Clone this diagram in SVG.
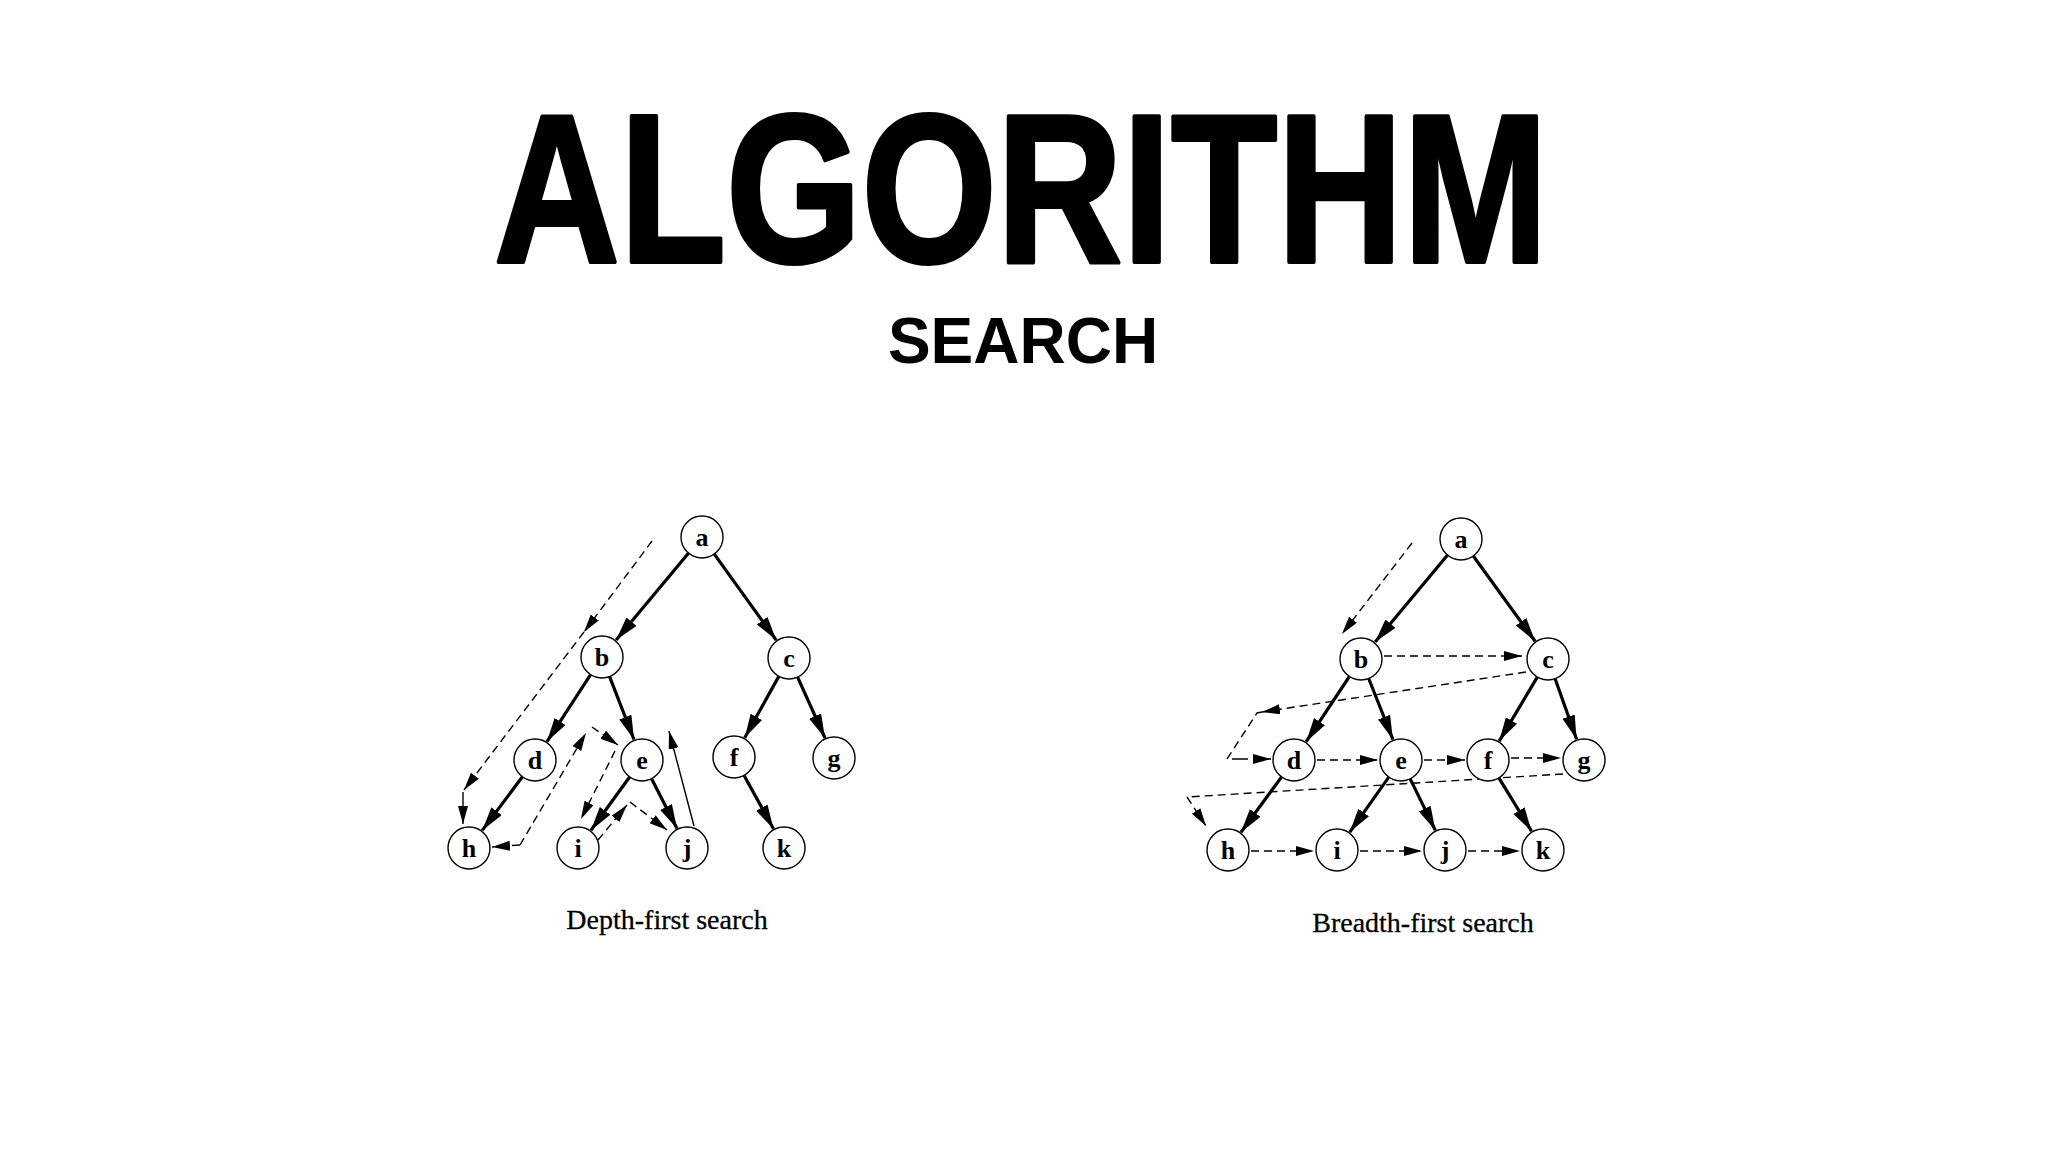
<svg xmlns="http://www.w3.org/2000/svg" width="2048" height="1152" viewBox="0 0 2048 1152">
<defs>
<marker id="ah" markerUnits="userSpaceOnUse" markerWidth="26" markerHeight="14" refX="24" refY="6.5" orient="auto">
<path d="M0,0 L24,6.5 L0,13 z" fill="#000"/>
</marker>
<marker id="ad" markerUnits="userSpaceOnUse" markerWidth="20" markerHeight="11" refX="18" refY="5" orient="auto">
<path d="M0,0 L18,5 L0,10 z" fill="#000"/>
</marker>
</defs>
<style>
.node circle{fill:#fff;stroke:#000;stroke-width:1.4}
.node text{font-family:"Liberation Serif","Times New Roman",serif;font-size:26px;font-weight:bold;text-anchor:middle;fill:#000}
.tree{stroke:#000;stroke-width:3.2;fill:none;marker-end:url(#ah)}
.dash{stroke:#000;stroke-width:1.4;fill:none;stroke-dasharray:8 5}
.dasha{stroke:#000;stroke-width:1.4;fill:none;stroke-dasharray:8 5;marker-end:url(#ad)}
.thin{stroke:#000;stroke-width:1.4;fill:none;marker-end:url(#ad)}
.cap{font-family:"Liberation Serif","Times New Roman",serif;font-size:28px;text-anchor:middle;fill:#000;stroke:#000;stroke-width:0.3}
</style>
<rect width="2048" height="1152" fill="#fff"/>
<g id="title">
<text x="494" y="262" font-family="Liberation Sans, Arial, sans-serif" font-weight="bold" font-size="212" textLength="1054" lengthAdjust="spacingAndGlyphs" fill="#000" stroke="#000" stroke-width="4" stroke-linejoin="round">ALGORITHM</text>
<text x="1023" y="363" font-family="Liberation Sans, Arial, sans-serif" font-weight="bold" font-size="64" text-anchor="middle" fill="#000">SEARCH</text>
</g>
<g id="connectors">
<line class="tree" x1="688.6" y1="553.1" x2="616.1" y2="640.1"/>
<line class="tree" x1="714.3" y1="554.1" x2="776.2" y2="640.1"/>
<line class="tree" x1="590.6" y1="674.6" x2="547" y2="741.6"/>
<line class="tree" x1="609.6" y1="676.6" x2="634" y2="739.5"/>
<line class="tree" x1="778.8" y1="676.4" x2="744.7" y2="737.8"/>
<line class="tree" x1="797.6" y1="677.2" x2="825" y2="738"/>
<line class="tree" x1="522.4" y1="776.8" x2="482.2" y2="830.4"/>
<line class="tree" x1="629.6" y1="777" x2="591" y2="830.2"/>
<line class="tree" x1="651.6" y1="778.7" x2="677" y2="828.4"/>
<line class="tree" x1="744.1" y1="775.4" x2="773.4" y2="828.7"/>
<line class="dasha" x1="652" y1="541" x2="584" y2="632"/>
<line class="dasha" x1="584" y1="632" x2="464" y2="790"/>
<line class="thin" x1="463" y1="792" x2="463" y2="824"/>
<line class="dasha" x1="520" y1="845" x2="492" y2="847"/>
<line class="dasha" x1="520" y1="845" x2="586" y2="733"/>
<line class="dasha" x1="592" y1="727" x2="618" y2="745"/>
<line class="dasha" x1="615" y1="751" x2="581" y2="819"/>
<line class="dasha" x1="598" y1="840" x2="627" y2="805"/>
<line class="dasha" x1="630" y1="802" x2="667" y2="830"/>
<line class="thin" x1="694" y1="826" x2="669" y2="731"/>
<line class="tree" x1="1447.6" y1="555.1" x2="1375.1" y2="642.1"/>
<line class="tree" x1="1473.3" y1="556" x2="1535.1" y2="641.2"/>
<line class="tree" x1="1349.4" y1="676.5" x2="1306.2" y2="741.7"/>
<line class="tree" x1="1368.7" y1="678.5" x2="1392.9" y2="739.5"/>
<line class="tree" x1="1537.3" y1="677.1" x2="1499.2" y2="741.1"/>
<line class="tree" x1="1555.1" y1="678.8" x2="1576.6" y2="739.3"/>
<line class="tree" x1="1281.6" y1="776.9" x2="1241" y2="832.3"/>
<line class="tree" x1="1388.8" y1="777.1" x2="1349.8" y2="832.1"/>
<line class="tree" x1="1410.2" y1="778.9" x2="1435.3" y2="830.2"/>
<line class="tree" x1="1498.9" y1="777.9" x2="1531.5" y2="831.2"/>
<line class="dasha" x1="1412" y1="543" x2="1342" y2="634"/>
<line class="dasha" x1="1384" y1="656" x2="1522" y2="656"/>
<line class="dasha" x1="1526" y1="672" x2="1262" y2="712"/>
<polyline class="dash" points="1262,712 1257,713 1227,759 1240,759"/>
<line class="dasha" x1="1240" y1="759" x2="1271" y2="759"/>
<line class="dasha" x1="1317" y1="760" x2="1378" y2="760"/>
<line class="dasha" x1="1424" y1="760" x2="1465" y2="760"/>
<line class="dasha" x1="1511" y1="758" x2="1561" y2="758"/>
<line class="dash" x1="1563" y1="774" x2="1187" y2="797"/>
<line class="dasha" x1="1187" y1="797" x2="1206" y2="826"/>
<line class="dasha" x1="1251" y1="851" x2="1314" y2="851"/>
<line class="dasha" x1="1360" y1="851" x2="1422" y2="851"/>
<line class="dasha" x1="1468" y1="851" x2="1520" y2="851"/>
</g>
<g id="dfs-a" class="node"><circle cx="702" cy="537" r="21"/><text x="702" y="546">a</text></g>
<g id="dfs-b" class="node"><circle cx="602" cy="657" r="21"/><text x="602" y="666">b</text></g>
<g id="dfs-c" class="node"><circle cx="789" cy="658" r="21"/><text x="789" y="667">c</text></g>
<g id="dfs-d" class="node"><circle cx="535" cy="760" r="21"/><text x="535" y="769">d</text></g>
<g id="dfs-e" class="node"><circle cx="642" cy="760" r="21"/><text x="642" y="769">e</text></g>
<g id="dfs-f" class="node"><circle cx="734" cy="757" r="21"/><text x="734" y="766">f</text></g>
<g id="dfs-g" class="node"><circle cx="834" cy="758" r="21"/><text x="834" y="767">g</text></g>
<g id="dfs-h" class="node"><circle cx="469" cy="848" r="21"/><text x="469" y="857">h</text></g>
<g id="dfs-i" class="node"><circle cx="578" cy="848" r="21"/><text x="578" y="857">i</text></g>
<g id="dfs-j" class="node"><circle cx="687" cy="848" r="21"/><text x="687" y="857">j</text></g>
<g id="dfs-k" class="node"><circle cx="784" cy="848" r="21"/><text x="784" y="857">k</text></g>
<g id="bfs-a" class="node"><circle cx="1461" cy="539" r="21"/><text x="1461" y="548">a</text></g>
<g id="bfs-b" class="node"><circle cx="1361" cy="659" r="21"/><text x="1361" y="668">b</text></g>
<g id="bfs-c" class="node"><circle cx="1548" cy="659" r="21"/><text x="1548" y="668">c</text></g>
<g id="bfs-d" class="node"><circle cx="1294" cy="760" r="21"/><text x="1294" y="769">d</text></g>
<g id="bfs-e" class="node"><circle cx="1401" cy="760" r="21"/><text x="1401" y="769">e</text></g>
<g id="bfs-f" class="node"><circle cx="1488" cy="760" r="21"/><text x="1488" y="769">f</text></g>
<g id="bfs-g" class="node"><circle cx="1584" cy="760" r="21"/><text x="1584" y="769">g</text></g>
<g id="bfs-h" class="node"><circle cx="1228" cy="850" r="21"/><text x="1228" y="859">h</text></g>
<g id="bfs-i" class="node"><circle cx="1337" cy="850" r="21"/><text x="1337" y="859">i</text></g>
<g id="bfs-j" class="node"><circle cx="1445" cy="850" r="21"/><text x="1445" y="859">j</text></g>
<g id="bfs-k" class="node"><circle cx="1543" cy="850" r="21"/><text x="1543" y="859">k</text></g>
<g id="captions">
<text class="cap" x="667" y="929">Depth-first search</text>
<text class="cap" x="1423" y="932">Breadth-first search</text>
</g>
</svg>
